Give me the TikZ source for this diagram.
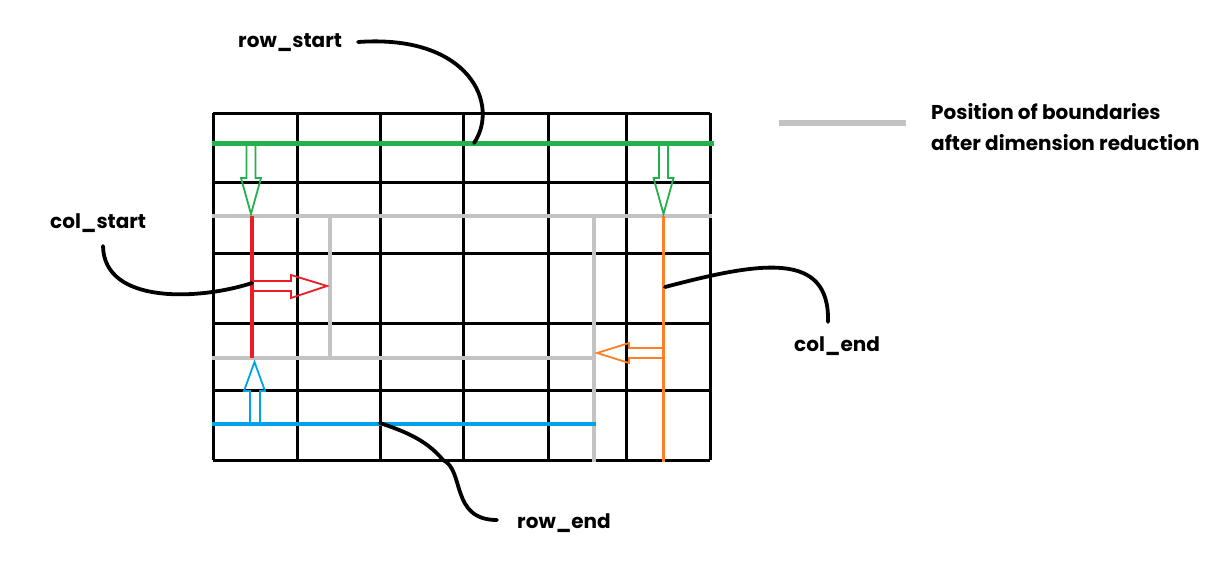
\documentclass[tikz,border=0pt]{standalone}
\usepackage{fontspec}
\setmainfont{Poppins}
\definecolor{pgreen}{HTML}{22B14C}
\definecolor{pred}{HTML}{ED1C24}
\definecolor{porange}{HTML}{FF7F27}
\definecolor{pblue}{HTML}{00A2E8}
\definecolor{pgray}{HTML}{C3C3C3}
\tikzset{
  gridline/.style={black, line width=3pt},
  bound/.style={line width=4pt},
  hollow/.style={line width=1.8pt, line join=miter},
  leader/.style={black, line width=3.8pt, line cap=round},
  lbl/.style={font=\fontsize{20}{31}\selectfont\bfseries, inner sep=0pt, anchor=west},
}
\begin{document}
\begin{tikzpicture}[x=1pt,y=-1pt]
\useasboundingbox (0,0) rectangle (1222,586);
% grid
\foreach \x in {213,297,380,463.5,548,626,710} \draw[gridline] (\x,113) -- (\x,460);
\foreach \y in {113,182,253,323,390,460} \draw[gridline] (213,\y) -- (710,\y);
% gray boundaries
\coordinate (gTL) at (212,216); \coordinate (gTR) at (712,216);
\coordinate (gBL) at (212,358); \coordinate (gBR) at (596,358);
\draw[bound, pgray] (gTL) -- (gTR);
\draw[bound, pgray] (gBL) -- (gBR);
\draw[bound, pgray] (330,216) -- (330,358);
\draw[bound, pgray] (594,216) -- (594,462);
% colored boundaries
\coordinate (gs1) at (212,143); \coordinate (gs2) at (714,143);
\draw[line width=5pt, pgreen] (gs1) -- (gs2);
\coordinate (r1) at (252,216); \coordinate (r2) at (252,358);
\draw[line width=4.5pt, pred] (r1) -- (r2);
\coordinate (o1) at (663.5,216); \coordinate (o2) at (663.5,462);
\draw[line width=3.5pt, porange] (o1) -- (o2);
\coordinate (b1) at (212,424); \coordinate (b2) at (596,424);
\draw[line width=4pt, pblue] (b1) -- (b2);
% hollow arrows
\draw[hollow, pgreen] (246.5,145) -- (246.5,178) -- (241,178) -- (251,214) -- (261,178) -- (255.5,178) -- (255.5,145);
\draw[hollow, pgreen] (659,145) -- (659,178) -- (653.5,178) -- (663.5,214) -- (673.5,178) -- (668,178) -- (668,145);
\draw[hollow, pred] (254,281) -- (291,281) -- (291,275) -- (327,286) -- (291,298) -- (291,291) -- (254,291);
\draw[hollow, porange] (662,348) -- (629,348) -- (629,343) -- (597,353) -- (629,363) -- (629,358) -- (662,358);
\draw[hollow, pblue] (250,422) -- (250,391) -- (244,391) -- (254.5,362) -- (265,391) -- (260,391) -- (260,422);
% legend
\coordinate (lg1) at (779,123); \coordinate (lg2) at (906,123);
\draw[line width=6pt, pgray] (lg1) -- (lg2);
\node[lbl, align=left] (legend) at (931,127.5) {Position of boundaries\\after dimension reduction};
% labels
\node[lbl] (rs) at (238,43) {row\_start};
\node[lbl] (cs) at (50,223) {col\_start};
\node[lbl] (ce) at (794,346) {col\_end};
\node[lbl] (re) at (517,523) {row\_end};
% leaders
\coordinate (rsT) at (474,143);
\coordinate (csT) at (252,283);
\coordinate (ceT) at (665,287);
\coordinate (reT) at (380,423);
\draw[leader] (358,42) .. controls (470,34) and (500,105) .. (rsT);
\draw[leader] (103,246) .. controls (104,305) and (200,300) .. (csT);
\draw[leader] (828,322) .. controls (830,250) and (760,262) .. (ceT);
\draw[leader] (497,520) .. controls (450,520) and (465,470) .. (443,460) .. controls (425,438) and (400,430) .. (reT);
\end{tikzpicture}
\end{document}
